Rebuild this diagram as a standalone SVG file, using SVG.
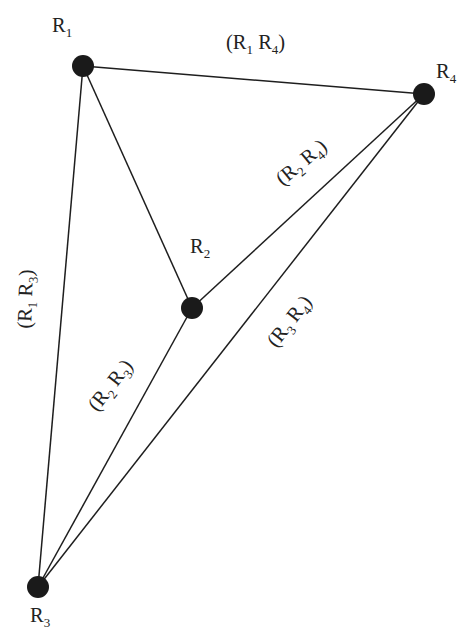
<svg xmlns="http://www.w3.org/2000/svg" width="474" height="644" viewBox="0 0 474 644">
<style>
.edge{stroke:#1e1e1e;stroke-width:1.5;fill:none}
.node{fill:#1a1a1a}
text{font-family:"Liberation Serif","Times New Roman",serif;font-size:20.5px;fill:#222}
.sub{font-size:13px}
</style>
<rect width="474" height="644" fill="#fff"/>
<g id="connectors">
<line class="edge" x1="83" y1="66" x2="424" y2="94"/>
<line class="edge" x1="83" y1="66" x2="192" y2="308"/>
<line class="edge" x1="83" y1="66" x2="38" y2="587"/>
<line class="edge" x1="192" y1="308" x2="424" y2="94"/>
<line class="edge" x1="192" y1="308" x2="38" y2="587"/>
<line class="edge" x1="38" y1="587" x2="424" y2="94"/>
</g>
<g id="edge-labels">
<text x="226" y="49">(R<tspan class="sub" dy="5">1</tspan><tspan dy="-5"> R</tspan><tspan class="sub" dy="5">4</tspan><tspan dy="-5">)</tspan></text>
<text transform="translate(25,299) rotate(-88)" text-anchor="middle" y="7">(R<tspan class="sub" dy="5">1</tspan><tspan dy="-5"> R</tspan><tspan class="sub" dy="5">3</tspan><tspan dy="-5">)</tspan></text>
<text transform="translate(110,385) rotate(-52)" text-anchor="middle" y="7">(R<tspan class="sub" dy="5">2</tspan><tspan dy="-5"> R</tspan><tspan class="sub" dy="5">3</tspan><tspan dy="-5">)</tspan></text>
<text transform="translate(301,162) rotate(-40)" text-anchor="middle" y="7">(R<tspan class="sub" dy="5">2</tspan><tspan dy="-5"> R</tspan><tspan class="sub" dy="5">4</tspan><tspan dy="-5">)</tspan></text>
<text transform="translate(289,321) rotate(-52)" text-anchor="middle" y="7">(R<tspan class="sub" dy="5">3</tspan><tspan dy="-5"> R</tspan><tspan class="sub" dy="5">4</tspan><tspan dy="-5">)</tspan></text>
</g>
<g id="R1"><circle class="node" cx="83" cy="66" r="11"/><text x="52" y="32">R<tspan class="sub" dy="5">1</tspan></text></g>
<g id="R4"><circle class="node" cx="424" cy="94" r="11"/><text x="436" y="78">R<tspan class="sub" dy="5">4</tspan></text></g>
<g id="R2"><circle class="node" cx="192" cy="308" r="11"/><text x="190" y="253">R<tspan class="sub" dy="5">2</tspan></text></g>
<g id="R3"><circle class="node" cx="38" cy="587" r="11"/><text x="30" y="622">R<tspan class="sub" dy="5">3</tspan></text></g>
</svg>
